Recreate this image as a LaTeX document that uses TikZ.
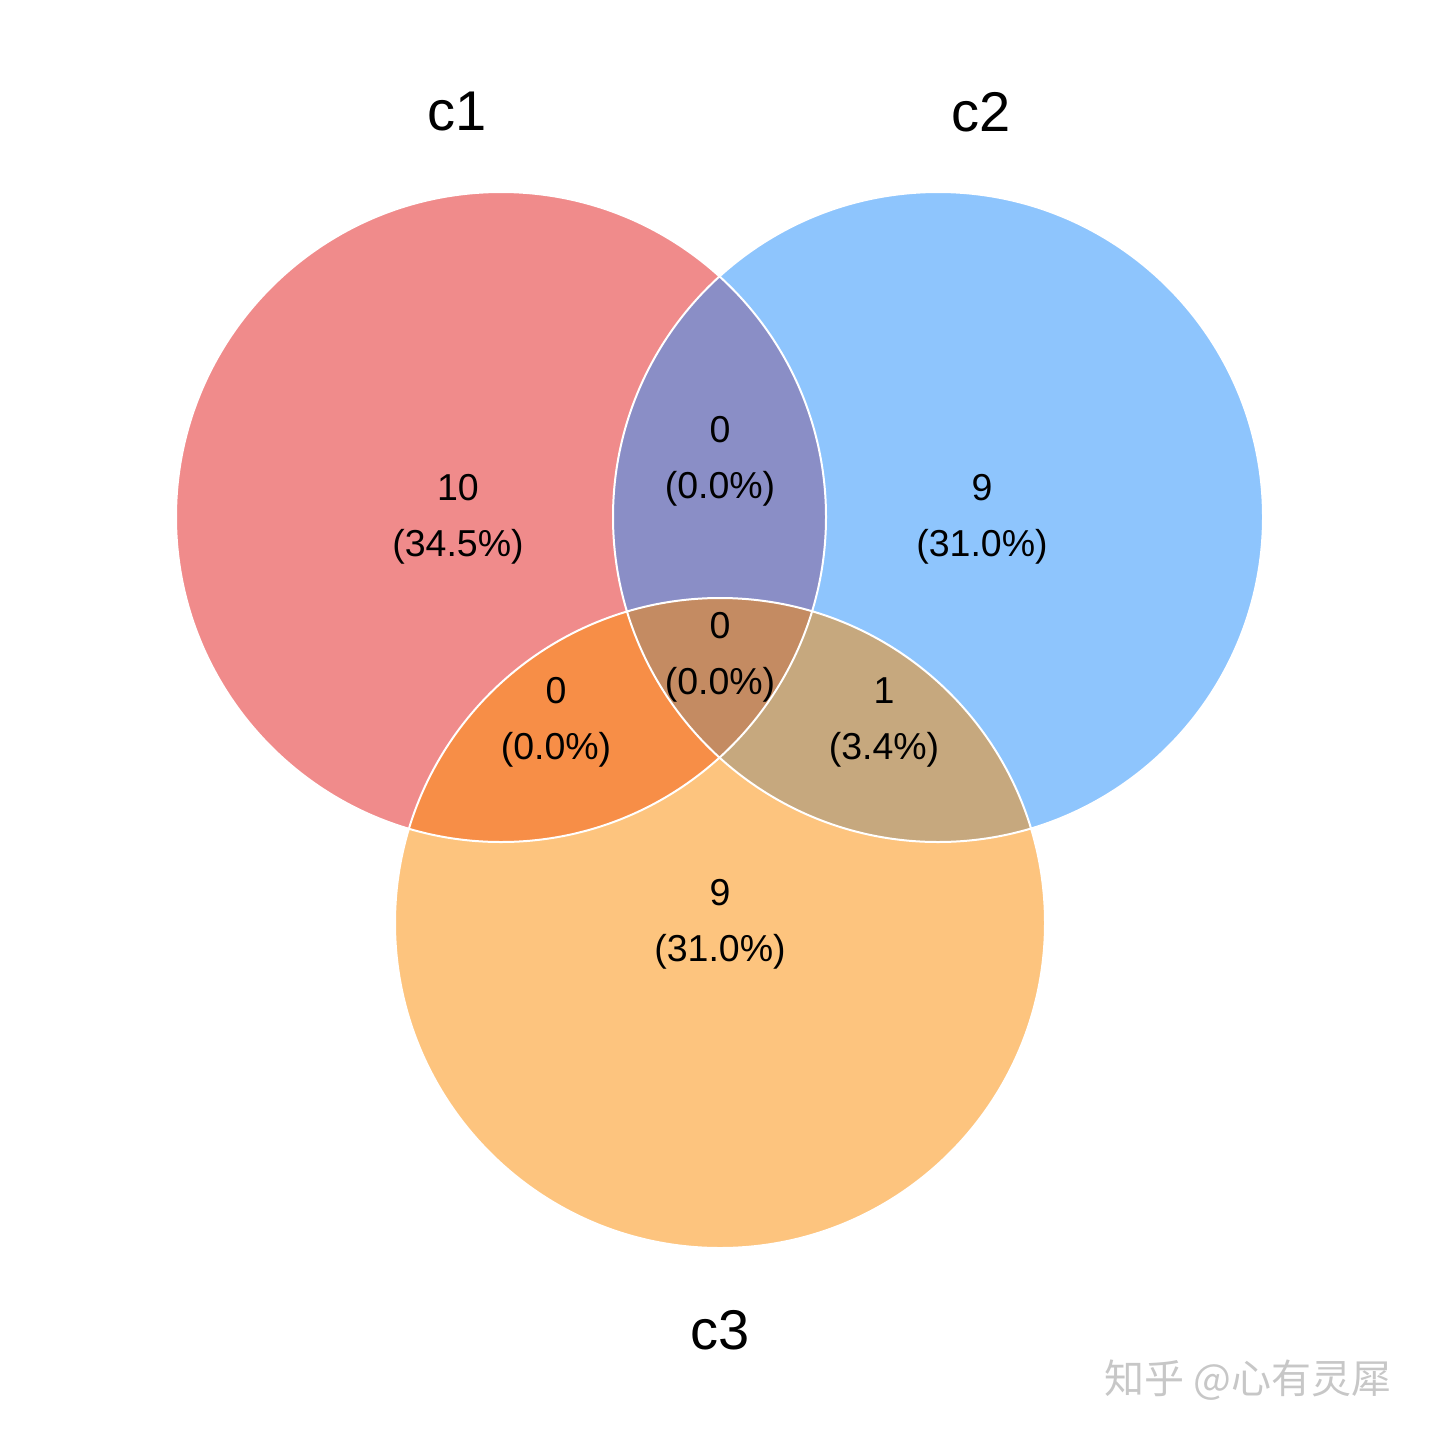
\documentclass[tikz,border=0pt]{standalone}
\usepackage{fontspec}
\setmainfont{Liberation Sans}
\newfontfamily\cjk{Noto Sans CJK SC}
\definecolor{cA}{HTML}{F08B8B}
\definecolor{cB}{HTML}{8EC5FD}
\definecolor{cC}{HTML}{FDC47E}
\definecolor{cAB}{HTML}{8A8EC6}
\definecolor{cAC}{HTML}{F78E47}
\definecolor{cBC}{HTML}{C6A87E}
\definecolor{cABC}{HTML}{C48B62}
\begin{document}
\begin{tikzpicture}[x=1pt,y=-1pt,
  setlabel/.style={font=\fontsize{56}{60}\selectfont},
  numlabel/.style={font=\fontsize{37.5}{56}\selectfont,align=center}]
\useasboundingbox (0,0) rectangle (1440,1440);
\def\ca{(501,517) circle (325)}
\def\cb{(938,517) circle (325)}
\def\cc{(720,923) circle (325)}
\fill[cA] \ca; \fill[cB] \cb; \fill[cC] \cc;
\begin{scope}\clip \ca; \fill[cAB] \cb; \end{scope}
\begin{scope}\clip \ca; \fill[cAC] \cc; \end{scope}
\begin{scope}\clip \cb; \fill[cBC] \cc; \end{scope}
\begin{scope}\clip \ca; \clip \cb; \fill[cABC] \cc; \end{scope}
\draw[white,line width=2] \ca \cb \cc;
\node[setlabel] (l1) at (457,112) {c1};
\node[setlabel] (l2) at (981,112) {c2};
\node[setlabel] (l3) at (720,1330) {c3};
\node[numlabel] (n1) at (458,519) {10\\(34.5\%)};
\node[numlabel] (n2) at (982,519) {9\\(31.0\%)};
\node[numlabel] (n12) at (720,461) {0\\(0.0\%)};
\node[numlabel] (n123) at (720,657) {0\\(0.0\%)};
\node[numlabel] (n13) at (556,722) {0\\(0.0\%)};
\node[numlabel] (n23) at (884,722) {1\\(3.4\%)};
\node[numlabel] (n3) at (720,924) {9\\(31.0\%)};
\node[font=\cjk\fontsize{40}{44}\selectfont,text=black!22] (wm) at (1248,1380) {知乎 @心有灵犀};
\end{tikzpicture}
\end{document}
